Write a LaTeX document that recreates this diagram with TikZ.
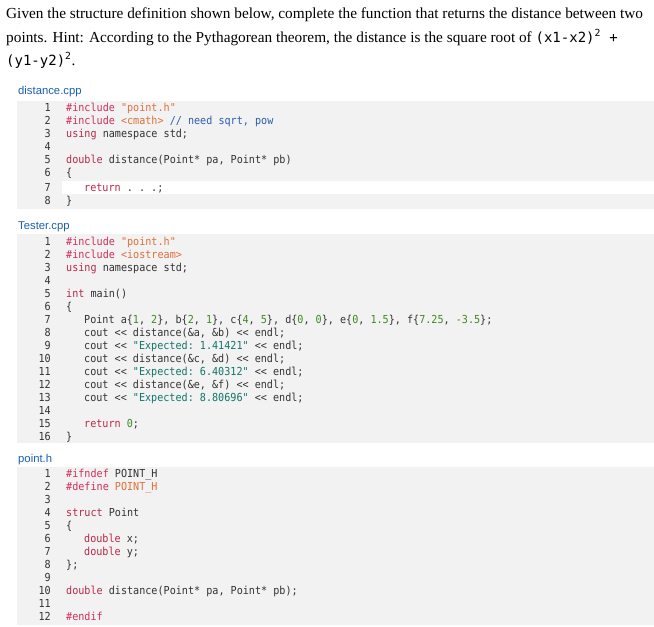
\documentclass[tikz,border=0pt]{standalone}
\usepackage{fontspec}
\setmainfont{Liberation Serif}
\setmonofont[FakeStretch=0.92]{DejaVu Sans Mono}
\newfontfamily\mathmono{DejaVu Sans Mono}
\newfontfamily\lblfont{Liberation Sans}
\definecolor{kw}{HTML}{B8294A}
\definecolor{pp}{HTML}{D0305A}
\definecolor{str}{HTML}{E0703A}
\definecolor{cmt}{HTML}{2A5DB0}
\definecolor{num}{HTML}{3E8A22}
\definecolor{tea}{HTML}{11756A}
\definecolor{lbl}{HTML}{1A5FB4}
\definecolor{codebg}{HTML}{F2F2F2}
\definecolor{code}{HTML}{333333}
\definecolor{gut}{HTML}{333333}
\newcommand\kw[1]{\textcolor{kw}{#1}}
\newcommand\pp[1]{\textcolor{pp}{#1}}
\newcommand\st[1]{\textcolor{str}{#1}}
\newcommand\cm[1]{\textcolor{cmt}{#1}}
\newcommand\nm[1]{\textcolor{num}{#1}}
\newcommand\te[1]{\textcolor{tea}{#1}}
\tikzset{
  ln/.style={anchor=base east,inner sep=0pt,font=\fontsize{11}{12}\ttfamily,text=gut},
  cd/.style={anchor=base west,inner sep=0pt,font=\fontsize{11}{12}\ttfamily,text=code},
  para/.style={anchor=base west,inner sep=0pt,font=\fontsize{15.3}{17}\selectfont,text=black},
  fname/.style={anchor=base west,inner sep=0pt,font=\lblfont\fontsize{11.3}{13}\selectfont,text=lbl},
  codebox/.style={fill=codebg,draw=none}
}
\newcommand\cl[5]{\node[ln] (n#1) at (51,#3) {#2}; \node[cd] (c#1) at (#4,#3) {#5};}
\begin{document}
\begin{tikzpicture}[x=1pt,y=-1pt]
\useasboundingbox (0,0) rectangle (654,627);
\fill[white] (0,0) rectangle (654,627);
\node[para] (p1) at (6,18) {Given the structure definition shown below, complete the function that returns the distance between two};
\node[para] (p2) at (6,42) {points. Hint: According to the Pythagorean theorem, the distance is the square root of {\mathmono\fontsize{14}{16}\selectfont (x1-x2)\textsuperscript{2} +}};
\node[para] (p3) at (6,65) {{\mathmono\fontsize{14}{16}\selectfont (y1-y2)\textsuperscript{2}}.};
% distance.cpp
\node[fname] (f1) at (18,94) {distance.cpp};
\fill[codebox] (17,101) rectangle (654,209);
\fill[white] (62,181) rectangle (654,194);
\cl{a1}{1}{111}{66}{\pp{\#include} \st{"point.h"}}
\cl{a2}{2}{124}{66}{\pp{\#include} \st{<cmath>} \cm{// need sqrt, pow}}
\cl{a3}{3}{137}{66}{\kw{using} namespace std;}
\cl{a4}{4}{150}{66}{}
\cl{a5}{5}{163}{66}{\kw{double} distance(Point* pa, Point* pb)}
\cl{a6}{6}{176}{66}{\{}
\cl{a7}{7}{191}{84}{\kw{return} . . .;}
\cl{a8}{8}{204}{66}{\}}
% Tester.cpp
\node[fname] (f2) at (18,229) {Tester.cpp};
\fill[codebox] (17,234) rectangle (654,443);
\cl{b1}{1}{245}{66}{\pp{\#include} \st{"point.h"}}
\cl{b2}{2}{258}{66}{\pp{\#include} \st{<iostream>}}
\cl{b3}{3}{271}{66}{\kw{using} namespace std;}
\cl{b4}{4}{284}{66}{}
\cl{b5}{5}{297}{66}{\kw{int} main()}
\cl{b6}{6}{310}{66}{\{}
\cl{b7}{7}{323}{84}{Point a\{\nm{1}, \nm{2}\}, b\{\nm{2}, \nm{1}\}, c\{\nm{4}, \nm{5}\}, d\{\nm{0}, \nm{0}\}, e\{\nm{0}, \nm{1.5}\}, f\{\nm{7.25}, \nm{-3.5}\};}
\cl{b8}{8}{336}{84}{cout << distance(\&a, \&b) << endl;}
\cl{b9}{9}{349}{84}{cout << \te{"Expected: 1.41421"} << endl;}
\cl{b10}{10}{362}{84}{cout << distance(\&c, \&d) << endl;}
\cl{b11}{11}{375}{84}{cout << \te{"Expected: 6.40312"} << endl;}
\cl{b12}{12}{388}{84}{cout << distance(\&e, \&f) << endl;}
\cl{b13}{13}{401}{84}{cout << \te{"Expected: 8.80696"} << endl;}
\cl{b14}{14}{414}{66}{}
\cl{b15}{15}{427}{84}{\kw{return} \nm{0};}
\cl{b16}{16}{440}{66}{\}}
% point.h
\node[fname] (f3) at (18,462) {point.h};
\fill[codebox] (17,467) rectangle (654,625);
\cl{c1}{1}{477}{66}{\pp{\#ifndef} POINT\_H}
\cl{c2}{2}{490}{66}{\pp{\#define} \st{POINT\_H}}
\cl{c3}{3}{503}{66}{}
\cl{c4}{4}{516}{66}{\kw{struct} Point}
\cl{c5}{5}{529}{66}{\{}
\cl{c6}{6}{542}{84}{\kw{double} x;}
\cl{c7}{7}{555}{84}{\kw{double} y;}
\cl{c8}{8}{568}{66}{\};}
\cl{c9}{9}{581}{66}{}
\cl{c10}{10}{594}{66}{\kw{double} distance(Point* pa, Point* pb);}
\cl{c11}{11}{607}{66}{}
\cl{c12}{12}{620}{66}{\pp{\#endif}}
\end{tikzpicture}
\end{document}
